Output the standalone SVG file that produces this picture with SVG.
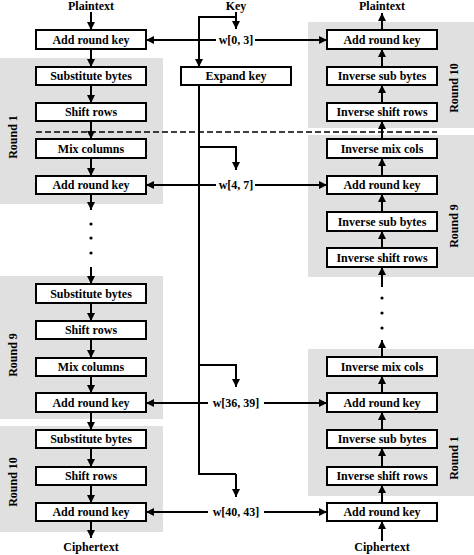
<svg xmlns="http://www.w3.org/2000/svg" width="474" height="555" viewBox="0 0 474 555">
<style>
.bg{fill:#e0e0e0;stroke:none}
.box{fill:#fff;stroke:#000;stroke-width:2}
text{font-family:"Liberation Serif","Times New Roman",serif;font-weight:bold;font-size:12px;fill:#000}
.c{text-anchor:middle}
.ln{fill:none;stroke:#000;stroke-width:2}
.ar{fill:none;stroke:#000;stroke-width:2;marker-end:url(#ah)}
.dash{fill:none;stroke:#000;stroke-width:1.5;stroke-dasharray:6,3}
.dot{fill:#000}
</style>
<defs>
<marker id="ah" markerUnits="userSpaceOnUse" markerWidth="9" markerHeight="8" refX="8" refY="4" orient="auto">
<path d="M0,0 L8,4 L0,8 z" fill="#000"/>
</marker>
</defs>
<rect width="474" height="555" fill="#fff"/>
<g id="rounds">
<rect class="bg" x="0" y="58" width="163" height="146"/>
<rect class="bg" x="0" y="276" width="163" height="143"/>
<rect class="bg" x="0" y="426" width="163" height="106"/>
<rect class="bg" x="308" y="22" width="166" height="106"/>
<rect class="bg" x="308" y="135" width="166" height="142"/>
<rect class="bg" x="308" y="349" width="166" height="147"/>
<text class="c" transform="translate(17,137) rotate(-90)">Round 1</text>
<text class="c" transform="translate(17,355) rotate(-90)">Round 9</text>
<text class="c" transform="translate(17,482) rotate(-90)">Round 10</text>
<text class="c" transform="translate(458,88) rotate(-90)">Round 10</text>
<text class="c" transform="translate(458,226) rotate(-90)">Round 9</text>
<text class="c" transform="translate(458,458) rotate(-90)">Round 1</text>
</g>
<line class="dash" x1="36" y1="132" x2="437" y2="132"/>
<g id="labels">
<text class="c" x="91" y="10">Plaintext</text>
<text class="c" x="236" y="10">Key</text>
<text class="c" x="382" y="10">Plaintext</text>
<text class="c" x="91" y="551">Ciphertext</text>
<text class="c" x="382" y="551">Ciphertext</text>
<text class="c" x="236" y="44">w[0, 3]</text>
<text class="c" x="236" y="189">w[4, 7]</text>
<text class="c" x="236" y="407">w[36, 39]</text>
<text class="c" x="236" y="516">w[40, 43]</text>
</g>
<g id="connectors">
<path class="ar" d="M91,12 V30"/>
<path class="ar" d="M91,49 V67"/>
<path class="ar" d="M91,85 V103"/>
<path class="ar" d="M91,121 V139"/>
<path class="ar" d="M91,158 V176"/>
<path class="ar" d="M91,194 V210"/>
<path class="ar" d="M91,267 V284"/>
<path class="ar" d="M91,303 V321"/>
<path class="ar" d="M91,339 V358"/>
<path class="ar" d="M91,376 V393"/>
<path class="ar" d="M91,412 V430"/>
<path class="ar" d="M91,448 V467"/>
<path class="ar" d="M91,485 V503"/>
<path class="ar" d="M91,521 V538"/>
<path class="ar" d="M382,30 V13"/>
<path class="ar" d="M382,67 V49"/>
<path class="ar" d="M382,103 V85"/>
<path class="ar" d="M382,139 V121"/>
<path class="ar" d="M382,176 V158"/>
<path class="ar" d="M382,212 V194"/>
<path class="ar" d="M382,248 V231"/>
<path class="ar" d="M382,287 V267"/>
<path class="ar" d="M382,357 V340"/>
<path class="ar" d="M382,393 V376"/>
<path class="ar" d="M382,430 V412"/>
<path class="ar" d="M382,467 V448"/>
<path class="ar" d="M382,503 V485"/>
<path class="ar" d="M382,541 V521"/>
<path class="ar" d="M236,12 V29"/>
<path class="ar" d="M236,17 H199 V67"/>
<path class="ln" d="M199,85 V474 H236"/>
<path class="ar" d="M236,474 V497"/>
<path class="ar" d="M199,147 H236 V170"/>
<path class="ar" d="M199,365 H236 V387"/>
<path class="ar" d="M216,40 H146"/>
<path class="ar" d="M255,40 H327"/>
<path class="ar" d="M216,185 H146"/>
<path class="ar" d="M255,185 H327"/>
<path class="ar" d="M208,403 H146"/>
<path class="ar" d="M264,403 H327"/>
<path class="ar" d="M208,512 H146"/>
<path class="ar" d="M264,512 H327"/>
<circle class="dot" cx="91" cy="224" r="1.6"/>
<circle class="dot" cx="91" cy="238" r="1.6"/>
<circle class="dot" cx="91" cy="253" r="1.6"/>
<circle class="dot" cx="382" cy="298" r="1.6"/>
<circle class="dot" cx="382" cy="313" r="1.6"/>
<circle class="dot" cx="382" cy="328" r="1.6"/>
</g>
<g id="enc-ark0"><rect class="box" x="36" y="30" width="110" height="19"/><text class="c" x="91" y="44">Add round key</text></g>
<g id="enc-sb1"><rect class="box" x="36" y="67" width="110" height="18"/><text class="c" x="91" y="80">Substitute bytes</text></g>
<g id="enc-sr1"><rect class="box" x="36" y="103" width="110" height="18"/><text class="c" x="91" y="116">Shift rows</text></g>
<g id="enc-mc1"><rect class="box" x="36" y="139" width="110" height="19"/><text class="c" x="91" y="153">Mix columns</text></g>
<g id="enc-ark1"><rect class="box" x="36" y="176" width="110" height="18"/><text class="c" x="91" y="189">Add round key</text></g>
<g id="enc-sb9"><rect class="box" x="36" y="284" width="110" height="19"/><text class="c" x="91" y="298">Substitute bytes</text></g>
<g id="enc-sr9"><rect class="box" x="36" y="321" width="110" height="18"/><text class="c" x="91" y="334">Shift rows</text></g>
<g id="enc-mc9"><rect class="box" x="36" y="358" width="110" height="18"/><text class="c" x="91" y="371">Mix columns</text></g>
<g id="enc-ark9"><rect class="box" x="36" y="393" width="110" height="19"/><text class="c" x="91" y="407">Add round key</text></g>
<g id="enc-sb10"><rect class="box" x="36" y="430" width="110" height="18"/><text class="c" x="91" y="443">Substitute bytes</text></g>
<g id="enc-sr10"><rect class="box" x="36" y="467" width="110" height="18"/><text class="c" x="91" y="480">Shift rows</text></g>
<g id="enc-ark10"><rect class="box" x="36" y="503" width="110" height="18"/><text class="c" x="91" y="516">Add round key</text></g>
<g id="expand-key"><rect class="box" x="181" y="67" width="110" height="18"/><text class="c" x="236" y="80">Expand key</text></g>
<g id="dec-ark10"><rect class="box" x="327" y="30" width="110" height="19"/><text class="c" x="382" y="44">Add round key</text></g>
<g id="dec-isb10"><rect class="box" x="327" y="67" width="110" height="18"/><text class="c" x="382" y="80">Inverse sub bytes</text></g>
<g id="dec-isr10"><rect class="box" x="327" y="103" width="110" height="18"/><text class="c" x="382" y="116">Inverse shift rows</text></g>
<g id="dec-imc9"><rect class="box" x="327" y="139" width="110" height="19"/><text class="c" x="382" y="153">Inverse mix cols</text></g>
<g id="dec-ark9"><rect class="box" x="327" y="176" width="110" height="18"/><text class="c" x="382" y="189">Add round key</text></g>
<g id="dec-isb9"><rect class="box" x="327" y="212" width="110" height="19"/><text class="c" x="382" y="226">Inverse sub bytes</text></g>
<g id="dec-isr9"><rect class="box" x="327" y="248" width="110" height="19"/><text class="c" x="382" y="262">Inverse shift rows</text></g>
<g id="dec-imc1"><rect class="box" x="327" y="357" width="110" height="19"/><text class="c" x="382" y="371">Inverse mix cols</text></g>
<g id="dec-ark1"><rect class="box" x="327" y="393" width="110" height="19"/><text class="c" x="382" y="407">Add round key</text></g>
<g id="dec-isb1"><rect class="box" x="327" y="430" width="110" height="18"/><text class="c" x="382" y="443">Inverse sub bytes</text></g>
<g id="dec-isr1"><rect class="box" x="327" y="467" width="110" height="18"/><text class="c" x="382" y="480">Inverse shift rows</text></g>
<g id="dec-ark0"><rect class="box" x="327" y="503" width="110" height="18"/><text class="c" x="382" y="516">Add round key</text></g>
</svg>
